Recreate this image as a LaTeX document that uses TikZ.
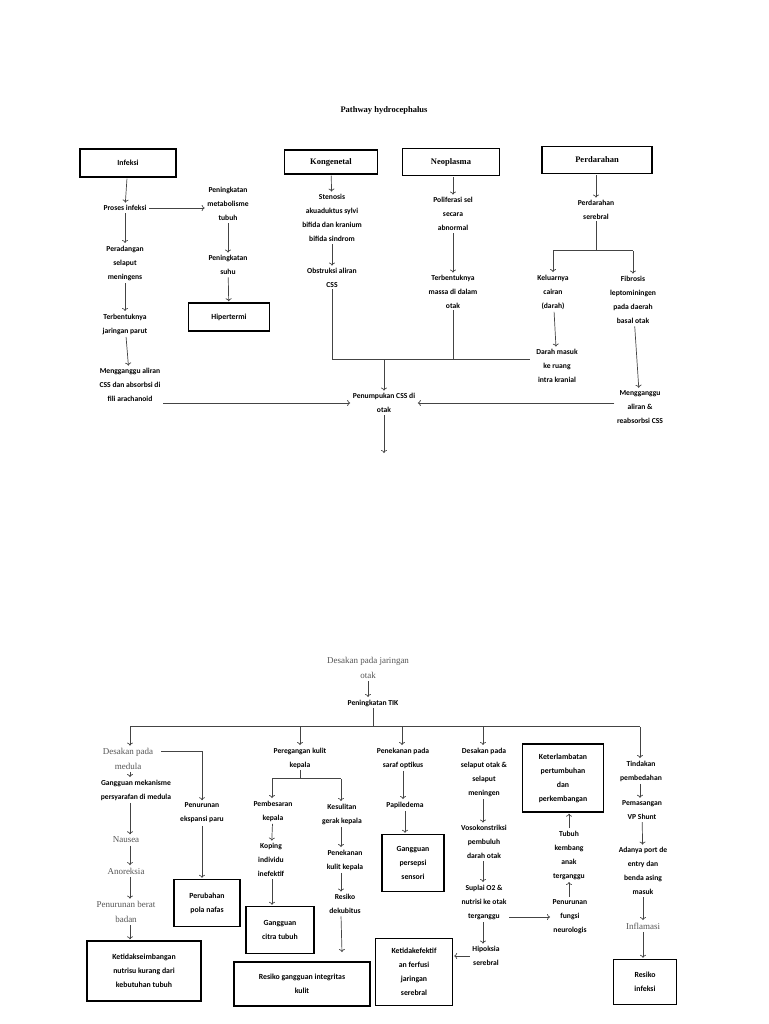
\documentclass[tikz,border=0pt]{standalone}
\usepackage{fontspec}
\setmainfont{Liberation Serif}
\newfontfamily\cfont{Carlito}
\usetikzlibrary{arrows.meta}
\definecolor{ln}{HTML}{444444}
\definecolor{gr}{HTML}{555555}
\begin{document}
\begin{tikzpicture}[x=1pt,y=-1pt,
  t/.style={align=center,font=\cfont\bfseries\fontsize{7.6}{14}\selectfont,inner sep=1.5pt},
  s/.style={align=center,font=\fontsize{9}{15}\selectfont,text=gr,inner sep=1.5pt},
  box/.style={draw,line width=1.3pt,align=center,font=\cfont\bfseries\fontsize{7.8}{14}\selectfont,inner sep=2pt},
  sbox/.style={box,font=\bfseries\fontsize{8.5}{12}\selectfont},
  arr/.style={draw=ln,line width=0.7pt,-{To[length=3pt,width=6pt]},shorten >=1pt,shorten <=1pt},
  ln/.style={draw=ln,line width=0.7pt}]
\useasboundingbox (0,0) rectangle (768,1024);
\node[font=\bfseries\fontsize{8.5}{10}\selectfont] (title) at (384,110) {Pathway hydrocephalus};
% top row boxes
\node[box,minimum width=96,minimum height=28] (inf) at (128,163) {Infeksi};
\node[sbox,minimum width=93,minimum height=24] (kong) at (331,162) {Kongenetal};
\node[sbox,minimum width=97,minimum height=27] (neo) at (451,162) {Neoplasma};
\node[sbox,minimum width=110,minimum height=27] (perd) at (597,160) {Perdarahan};
% infeksi column
\node[t] (pi) at (125,208) {Proses infeksi};
\node[t] (met) at (228,204) {Peningkatan\\metabolisme\\tubuh};
\node[t] (suhu) at (228,265) {Peningkatan\\suhu};
\node[box,minimum width=81,minimum height=28] (hip) at (229,317) {Hipertermi};
\node[t] (rad) at (125,263) {Peradangan\\selaput\\meningens};
\node[t] (par) at (125,324) {Terbentuknya\\jaringan parut};
\node[t] (mga) at (130,385) {Mengganggu aliran\\CSS dan absorbsi di\\fili arachanoid};
\draw[arr] (inf) -- (pi);
\draw[arr] (pi) -- (pi -| met.west);
\draw[arr] (met) -- (suhu);
\draw[arr] (suhu) -- (hip);
\draw[arr] (pi) -- (rad);
\draw[arr] (rad) -- (par);
\draw[arr] (par) -- (mga);
% kongenetal
\node[t] (sten) at (332,218) {Stenosis\\akuaduktus sylvi\\bifida dan kranium\\bifida sindrom};
\node[t] (obs) at (332,278) {Obstruksi aliran\\CSS};
\draw[arr] (kong) -- (sten);
\draw[arr] (sten) -- (obs);
% neoplasma
\node[t] (pol) at (453,214) {Poliferasi sel\\secara\\abnormal};
\node[t] (mas) at (453,292) {Terbentuknya\\massa di dalam\\otak};
\draw[arr] (neo.south -| pol) -- (pol);
\draw[arr] (pol) -- (mas);
% perdarahan
\node[t] (ps) at (596,210) {Perdarahan\\serebral};
\node[t] (kel) at (553,292) {Keluarnya\\cairan\\(darah)};
\node[t] (fib) at (633,300) {Fibrosis\\leptominingen\\pada daerah\\basal otak};
\node[t] (dar) at (557,366) {Darah masuk\\ke ruang\\intra kranial};
\node[t] (mgb) at (640,407) {Mengganggu\\aliran \&\\reabsorbsi CSS};
\draw[arr] (perd.south -| ps) -- (ps);
\coordinate (js) at (596,250);
\coordinate (jl) at (553,250);
\coordinate (jr) at (633,250);
\draw[ln] (ps) -- (js);
\draw[ln] (jl) -- (jr);
\draw[arr] (jl) -- (kel);
\draw[arr] (jr) -- (fib);
\draw[arr] (kel) -- (dar);
\draw[arr] (fib) -- (mgb);
% penumpukan
\node[t] (pen) at (384,403) {Penumpukan CSS di\\otak};
\coordinate (j1) at (332,359);
\coordinate (j2) at (530,359);
\coordinate (j3) at (384,359);
\coordinate (j4) at (453,359);
\coordinate (pe) at (384,454);
\draw[ln] (obs.south) -- (j1) -- (j2);
\draw[ln] (mas.south) -- (j4);
\draw[arr] (j3) -- (pen);
\draw[arr] (mga.east |- pen) -- (pen);
\draw[arr] (mgb.west |- pen) -- (pen);
\draw[arr] (pen) -- (pe);
% ===== bottom =====
\node[s] (dj) at (368,668) {Desakan pada jaringan\\otak};
\node[t] (tik) at (373,703) {Peningkatan TIK};
\draw[arr] (dj) -- (dj |- tik.north);
\coordinate (jt) at (373,726);
\coordinate (b1) at (130,726);
\coordinate (b2) at (300,726);
\coordinate (b3) at (402,726);
\coordinate (b4) at (483,726);
\coordinate (b5) at (640,726);
\draw[ln] (tik) -- (jt);
\draw[ln] (b1) -- (b5);
% col1
\node[s] (med) at (128,759) {Desakan pada\\medula};
\node[t] (gm) at (136,790) {Gangguan mekanisme\\persyarafan di medula};
\node[s] (nau) at (126,840) {Nausea};
\node[s] (ano) at (126,871) {Anoreksia};
\node[s] (pbb) at (126,912) {Penurunan berat\\badan};
\node[box,minimum width=114,minimum height=60] (ket1) at (144,971) {Ketidakseimbangan\\nutrisu kurang dari\\kebutuhan tubuh};
\node[t] (eks) at (202,813) {Penurunan\\ekspansi paru};
\node[box,minimum width=66,minimum height=47] (ppn) at (207,903) {Perubahan\\pola nafas};
\draw[arr] (b1) -- (b1 |- med.north);
\draw[arr] (med.south -| b1) -- (gm.north -| b1);
\draw[arr] (gm.south -| b1) -- (nau.north -| b1);
\draw[arr] (nau.south -| b1) -- (ano.north -| b1);
\draw[arr] (ano.south -| b1) -- (pbb.north -| b1);
\draw[arr] (pbb.south -| b1) -- (ket1.north -| b1);
\coordinate (m1) at (160,751);
\draw[arr] (m1) -| (eks.north);
\draw[arr] (eks) -- (eks |- ppn.north);
% col2
\node[t] (per) at (300,758) {Peregangan kulit\\kepala};
\node[t] (pk) at (273,811) {Pembesaran\\kepala};
\node[t] (kop) at (271,860) {Koping\\individu\\inefektif};
\node[box,minimum width=68,minimum height=47] (cit) at (280,930) {Gangguan\\citra tubuh};
\node[t] (ks) at (342,814) {Kesulitan\\gerak kepala};
\node[t] (pkk) at (345,860) {Penekanan\\kulit kepala};
\node[t] (dek) at (345,904) {Resiko\\dekubitus};
\node[box,minimum width=136,minimum height=44] (rgi) at (302,984) {Resiko gangguan integritas\\kulit};
\draw[arr] (b2) -- (per);
\coordinate (jp) at (300,778);
\coordinate (jpl) at (272,778);
\coordinate (jpr) at (341,778);
\draw[ln] (per) -- (jp);
\draw[ln] (jpl) -- (jpr);
\draw[arr] (jpl) -- (jpl |- pk.north);
\draw[arr] (jpr) -- (jpr |- ks.north);
\draw[arr] (pk) -- (kop);
\draw[arr] (kop.south -| jpl) -- (cit.north -| jpl);
\draw[arr] (ks.south -| jpr) -- (pkk.north -| jpr);
\draw[arr] (pkk.south -| jpr) -- (dek.north -| jpr);
\coordinate (dk) at (342,953);
\draw[arr] (dek.south -| jpr) -- (dk);
% col3
\node[t] (sar) at (403,758) {Penekanan pada\\saraf optikus};
\node[t] (pap) at (405,805) {Papiledema};
\node[box,minimum width=62,minimum height=57] (gps) at (413,863) {Gangguan\\persepsi\\sensori};
\draw[arr] (b3) -- (b3 |- sar.north);
\draw[arr] (sar) -- (sar |- pap.north);
\draw[arr] (pap) -- (pap |- gps.north);
% col4
\node[t] (dso) at (484,772) {Desakan pada\\selaput otak \&\\selaput\\meningen};
\node[t] (vas) at (484,842) {Vosokonstriksi\\pembuluh\\darah otak};
\node[t] (sup) at (484,902) {Suplai O2 \&\\nutrisi ke otak\\terganggu};
\node[t] (hipo) at (486,956) {Hipoksia\\serebral};
\node[box,minimum width=77,minimum height=67] (ket2) at (414,972) {Ketidakefektif\\an ferfusi\\jaringan\\serebral};
\draw[arr] (b4) -- (b4 |- dso.north);
\draw[arr] (dso.south -| b4) -- (vas.north -| b4);
\draw[arr] (vas.south -| b4) -- (sup.north -| b4);
\draw[arr] (sup.south -| b4) -- (hipo.north -| b4);
\draw[arr] (hipo.west) -- (hipo.west -| ket2.east);
% col5
\node[box,minimum width=81,minimum height=68] (klt) at (563,778) {Keterlambatan\\pertumbuhan\\dan\\perkembangan};
\node[t] (tub) at (569,855) {Tubuh\\kembang\\anak\\terganggu};
\node[t] (fun) at (570,917) {Penurunan\\fungsi\\neurologis};
\draw[arr] (sup.east |- fun) -- (fun.west);
\draw[arr] (fun.north -| tub) -- (tub);
\draw[arr] (tub) -- (tub |- klt.south);
% col6
\node[t] (tin) at (641,771) {Tindakan\\pembedahan};
\node[t] (vp) at (642,810) {Pemasangan\\VP Shunt};
\node[t] (ada) at (643,871) {Adanya port de\\entry dan\\benda asing\\masuk};
\node[s] (inf2) at (643,926) {Inflamasi};
\node[box,minimum width=63,minimum height=45] (ri) at (645,982) {Resiko\\infeksi};
\draw[arr] (b5) -- (b5 |- tin.north);
\draw[arr] (tin.south -| b5) -- (vp.north -| b5);
\draw[arr] (vp) -- (ada);
\draw[arr] (ada) -- (inf2);
\draw[arr] (inf2) -- (inf2 |- ri.north);
\end{tikzpicture}
\end{document}
